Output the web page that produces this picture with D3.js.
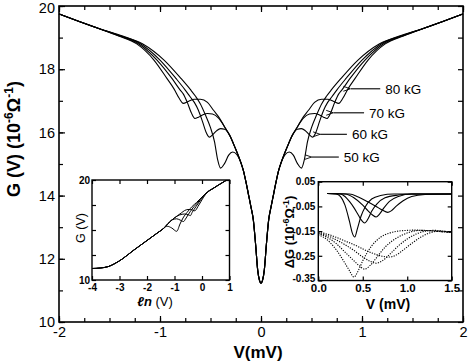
<!DOCTYPE html>
<html><head><meta charset="utf-8">
<script src="https://cdn.jsdelivr.net/npm/d3@7"></script>
<style>body{margin:0;background:#fff}svg text{font-family:"Liberation Sans",Arial,Helvetica,sans-serif;fill:#000}</style>
</head><body><svg id="c" width="474" height="364"></svg>
<script>
// ---------- data: main panel (positive V, mirrored about V=0) ----------
const fields = ["50 kG", "60 kG", "70 kG", "80 kG"];
const coreV = [0, 0.015, 0.033, 0.053, 0.076, 0.1, 0.125, 0.15, 0.175, 0.2];
const coreG = [11.23, 11.32, 11.65, 12.44, 13.23, 13.65, 14.05, 14.45, 14.8, 15.05];
const v50 = [0.24, 0.28, 0.32, 0.36, 0.40, 0.43, 0.46, 0.5, 0.55, 0.6, 0.65, 0.7, 0.79, 0.96, 1.17, 1.37, 1.6, 1.8, 2.0];
const g50 = [15.3, 15.38, 15.28, 15.02, 14.87, 15.15, 15.7, 16.15, 16.55, 16.9, 17.15, 17.36, 17.7, 18.29, 18.8, 19.05, 19.28, 19.51, 19.75];
const v60 = [0.235, 0.27, 0.31, 0.36, 0.40, 0.44, 0.48, 0.51, 0.54, 0.58, 0.62, 0.66, 0.70, 0.75, 0.84, 1.0, 1.19, 1.385, 1.6, 1.8, 2.0];
const g60 = [15.35, 15.62, 15.92, 16.1, 16.12, 16.05, 15.92, 15.85, 15.98, 16.35, 16.7, 16.95, 17.12, 17.34, 17.7, 18.29, 18.8, 19.05, 19.28, 19.51, 19.75];
const v70 = [0.235, 0.27, 0.31, 0.36, 0.42, 0.48, 0.53, 0.58, 0.62, 0.655, 0.69, 0.73, 0.77, 0.80, 0.88, 1.03, 1.21, 1.40, 1.6, 1.8, 2.0];
const g70 = [15.35, 15.62, 15.9, 16.17, 16.45, 16.58, 16.6, 16.55, 16.48, 16.44, 16.62, 16.95, 17.22, 17.34, 17.7, 18.29, 18.8, 19.05, 19.28, 19.51, 19.75];
const v80 = [0.235, 0.27, 0.31, 0.36, 0.41, 0.47, 0.53, 0.6, 0.66, 0.72, 0.77, 0.81, 0.86, 0.93, 1.06, 1.23, 1.41, 1.6, 1.8, 2.0];
const g80 = [15.35, 15.62, 15.9, 16.17, 16.45, 16.7, 16.95, 17.05, 17.05, 16.98, 16.92, 17.08, 17.37, 17.7, 18.29, 18.8, 19.05, 19.28, 19.51, 19.75];
const mainXTicks = [-2, -1, 0, 1, 2];
const mainYTicks = [10, 12, 14, 16, 18, 20];
// annotation arrows (tip in data units, label start in V)
const tipV = [0.5, 0.585, 0.715, 0.885];
const tipG = [15.22, 15.94, 16.62, 17.38];
const labelV = [0.82, 0.9, 1.07, 1.23];

// ---------- data: left inset, G vs ln(V) ----------
const inBaseLn = [-4.0, -3.7, -3.4, -3.2, -2.9, -2.5, -2.0, -1.6, -1.4];
const inBaseG = [11.15, 11.2, 11.35, 11.6, 12.1, 12.95, 13.95, 14.75, 15.15];
const in50Ln = [-1.27, -1.1, -0.92, -0.8, -0.69, -0.5, -0.36, -0.2, 0, 0.2, 0.4, 0.6, 0.87];
const in50G = [15.38, 15.2, 14.87, 15.6, 16.2, 16.9, 17.35, 17.75, 18.3, 18.8, 19.15, 19.5, 19.95];
const in60Ln = [-1.25, -1.1, -0.92, -0.8, -0.67, -0.6, -0.51, -0.36, -0.29, -0.17, 0, 0.2, 0.4, 0.6, 0.87];
const in60G = [15.6, 16.0, 16.12, 16.0, 15.85, 16.1, 16.5, 17.1, 17.34, 17.7, 18.29, 18.8, 19.15, 19.5, 19.95];
const in70Ln = [-1.25, -1.02, -0.82, -0.63, -0.48, -0.42, -0.36, -0.29, -0.22, -0.13, 0.03, 0.2, 0.4, 0.6, 0.87];
const in70G = [15.6, 16.17, 16.5, 16.6, 16.5, 16.44, 16.75, 17.05, 17.34, 17.7, 18.29, 18.8, 19.15, 19.5, 19.95];
const in80Ln = [-1.25, -1.02, -0.755, -0.63, -0.51, -0.41, -0.33, -0.26, -0.21, -0.15, -0.07, 0.06, 0.2, 0.4, 0.6, 0.87];
const in80G = [15.6, 16.17, 16.7, 16.95, 17.05, 17.05, 16.98, 16.92, 17.05, 17.34, 17.7, 18.29, 18.8, 19.15, 19.5, 19.95];
const inXTicks = [-4, -3, -2, -1, 0, 1];
const inYTicks = [10, 12.5, 15, 17.5, 20];

// ---------- data: right inset, dG vs V ----------
const dS50V = [0.1, 0.2, 0.25, 0.3, 0.35, 0.38, 0.41, 0.44, 0.48, 0.53, 0.6, 0.7, 0.85, 1.0, 1.5];
const dS50G = [0.002, 0.0, -0.01, -0.045, -0.11, -0.155, -0.174, -0.14, -0.09, -0.05, -0.02, -0.006, 0, 0, 0];
const dS60V = [0.1, 0.25, 0.3, 0.35, 0.4, 0.45, 0.49, 0.52, 0.56, 0.6, 0.66, 0.75, 0.9, 1.05, 1.5];
const dS60G = [0.002, 0.0, -0.01, -0.03, -0.055, -0.085, -0.108, -0.117, -0.1, -0.07, -0.04, -0.015, -0.004, 0, 0];
const dS70V = [0.1, 0.3, 0.4, 0.5, 0.56, 0.61, 0.65, 0.69, 0.74, 0.8, 0.9, 1.05, 1.5];
const dS70G = [0.002, 0.0, -0.015, -0.045, -0.068, -0.085, -0.093, -0.08, -0.055, -0.03, -0.01, 0, 0];
const dS80V = [0.1, 0.35, 0.45, 0.55, 0.65, 0.72, 0.78, 0.82, 0.88, 0.95, 1.05, 1.2, 1.5];
const dS80G = [0.002, 0.0, -0.012, -0.03, -0.05, -0.065, -0.074, -0.068, -0.048, -0.028, -0.01, -0.002, 0];
const dD50V = [0, 0.1, 0.2, 0.3, 0.35, 0.4, 0.45, 0.5, 0.6, 0.7, 0.8, 0.9, 1.0, 1.1, 1.2, 1.3, 1.4, 1.5];
const dD50G = [-0.165, -0.185, -0.225, -0.28, -0.31, -0.336, -0.31, -0.27, -0.21, -0.175, -0.158, -0.15, -0.147, -0.146, -0.148, -0.15, -0.153, -0.156];
const dD60V = [0, 0.1, 0.2, 0.3, 0.4, 0.46, 0.52, 0.58, 0.65, 0.75, 0.85, 0.95, 1.05, 1.15, 1.25, 1.35, 1.5];
const dD60G = [-0.16, -0.175, -0.2, -0.235, -0.27, -0.29, -0.304, -0.29, -0.26, -0.215, -0.185, -0.165, -0.152, -0.147, -0.148, -0.151, -0.156];
const dD70V = [0, 0.1, 0.2, 0.3, 0.4, 0.5, 0.58, 0.65, 0.72, 0.8, 0.9, 1.0, 1.1, 1.2, 1.3, 1.4, 1.5];
const dD70G = [-0.158, -0.168, -0.185, -0.205, -0.228, -0.255, -0.272, -0.28, -0.27, -0.245, -0.21, -0.182, -0.162, -0.15, -0.147, -0.15, -0.155];
const dD80V = [0, 0.1, 0.2, 0.3, 0.4, 0.5, 0.6, 0.7, 0.8, 0.87, 0.95, 1.05, 1.15, 1.25, 1.35, 1.45, 1.5];
const dD80G = [-0.155, -0.162, -0.175, -0.19, -0.205, -0.222, -0.238, -0.25, -0.255, -0.248, -0.228, -0.2, -0.175, -0.158, -0.15, -0.152, -0.155];
const dXTicks = [0, 0.5, 1.0, 1.5];
const dYTicks = [0.05, -0.05, -0.15, -0.25, -0.35];

// ---------- drawing ----------
const svg = d3.select("#c");
const FONT = '"Liberation Sans",Arial,Helvetica,sans-serif';
const zip = (a, b) => a.map((d, i) => [d, b[i]]);
function mirror(V, G) {
  const pts = [];
  for (let i = V.length - 1; i > 0; i--) pts.push([-V[i], G[i]]);
  for (let i = 0; i < V.length; i++) pts.push([V[i], G[i]]);
  return pts;
}
function styleAxis(sel, size, weight) {
  sel.select(".domain").remove();
  sel.attr("font-family", FONT).attr("font-size", size).attr("font-weight", weight || "normal");
  sel.selectAll(".tick line").attr("stroke", "#000").attr("stroke-width", 1.2);
}

// main scales
const x = d3.scaleLinear().domain([-2, 2]).range([59, 463]);
const y = d3.scaleLinear().domain([10, 20]).range([322, 6]);
const minorX = d3.range(-2, 2.001, 0.25);
const minorY = d3.range(10, 20.001, 1);

// main axes
svg.append("g").attr("transform", "translate(0,322)")
  .call(d3.axisBottom(x).tickValues(minorX).tickSizeInner(-4).tickSizeOuter(0).tickFormat(""))
  .call(s => styleAxis(s, 14.5));
svg.append("g").attr("transform", "translate(0,322)")
  .call(d3.axisBottom(x).tickValues(mainXTicks).tickSizeInner(-6).tickSizeOuter(0).tickPadding(5).tickFormat(d => String(d)))
  .call(s => styleAxis(s, 14.5));
svg.append("g").attr("transform", "translate(0,6)")
  .call(d3.axisTop(x).tickValues(minorX).tickSizeInner(-4).tickSizeOuter(0).tickFormat(""))
  .call(s => styleAxis(s, 14.5));
svg.append("g").attr("transform", "translate(0,6)")
  .call(d3.axisTop(x).tickValues(mainXTicks).tickSizeInner(-6).tickSizeOuter(0).tickFormat(""))
  .call(s => styleAxis(s, 14.5));
svg.append("g").attr("transform", "translate(59,0)")
  .call(d3.axisLeft(y).tickValues(minorY).tickSizeInner(-4).tickSizeOuter(0).tickFormat(""))
  .call(s => styleAxis(s, 14.5));
svg.append("g").attr("transform", "translate(59,0)")
  .call(d3.axisLeft(y).tickValues(mainYTicks).tickSizeInner(-6).tickSizeOuter(0).tickPadding(4).tickFormat(d => String(d)))
  .call(s => styleAxis(s, 14.5))
  .call(s => s.selectAll(".tick text").filter(d => d === 20).attr("dy", "0.45em"));
svg.append("g").attr("transform", "translate(463,0)")
  .call(d3.axisRight(y).tickValues(minorY).tickSizeInner(-5).tickSizeOuter(0).tickFormat(""))
  .call(s => styleAxis(s, 14.5));

svg.append("rect").attr("x", x(-2)).attr("y", y(20)).attr("width", x(2) - x(-2)).attr("height", y(10) - y(20))
  .attr("fill", "none").attr("stroke", "#000").attr("stroke-width", 1.6);

// main curves
const mainLine = d3.line().x(d => x(d[0])).y(d => y(d[1])).curve(d3.curveMonotoneX);
const mainSeries = [[v50, g50], [v60, g60], [v70, g70], [v80, g80]];
mainSeries.forEach(([V, G]) => {
  svg.append("path").attr("d", mainLine(mirror(coreV.concat(V), coreG.concat(G))))
    .attr("fill", "none").attr("stroke", "#000").attr("stroke-width", 1.1);
});

// arrows + labels
const defs = svg.append("defs");
defs.append("marker").attr("id", "ah").attr("viewBox", "0 0 10 10").attr("refX", 0).attr("refY", 5)
  .attr("markerWidth", 7).attr("markerHeight", 7).attr("orient", "auto-start-reverse").attr("markerUnits", "userSpaceOnUse")
  .append("path").attr("d", "M10,1.5 L0,5 L10,8.5").attr("fill", "none").attr("stroke", "#000").attr("stroke-width", 1.3);
fields.forEach((f, i) => {
  const ty = y(tipG[i]);
  svg.append("line").attr("x1", x(labelV[i]) - 5).attr("y1", ty).attr("x2", x(tipV[i])).attr("y2", ty)
    .attr("stroke", "#000").attr("stroke-width", 1.1).attr("marker-end", "url(#ah)");
  svg.append("text").attr("x", x(labelV[i])).attr("y", ty).attr("dy", "0.36em")
    .attr("font-size", 13.5).text(f);
});

// axis titles
svg.append("text").attr("x", 258).attr("y", 358).attr("text-anchor", "middle")
  .attr("font-size", 17).attr("font-weight", "bold").text("V(mV)");
const yt = svg.append("text").attr("transform", "translate(20,139) rotate(-90)").attr("text-anchor", "middle")
  .attr("font-size", 18).attr("font-weight", "bold");
yt.append("tspan").text("G (V) (10");
yt.append("tspan").attr("font-size", 12).attr("dy", -7).text("-6");
yt.append("tspan").attr("dy", 7).text("Ω");
yt.append("tspan").attr("font-size", 12).attr("dy", -7).text("-1");
yt.append("tspan").attr("dy", 7).text(")");

// ---------- left inset ----------
const ix = d3.scaleLinear().domain([-4, 1]).range([92, 229.5]);
const iy = d3.scaleLinear().domain([10, 20]).range([280, 180]);
svg.append("rect").attr("x", ix(-4)).attr("y", iy(20)).attr("width", ix(1) - ix(-4)).attr("height", iy(10) - iy(20)).attr("fill", "#fff");
const inLine = d3.line().x(d => ix(d[0])).y(d => iy(d[1])).curve(d3.curveMonotoneX);
[[in50Ln, in50G], [in60Ln, in60G], [in70Ln, in70G], [in80Ln, in80G]].forEach(([L, G]) => {
  svg.append("path").attr("d", inLine(zip(inBaseLn.concat(L), inBaseG.concat(G))))
    .attr("fill", "none").attr("stroke", "#000").attr("stroke-width", 1);
});
svg.append("g").attr("transform", `translate(0,${iy(10)})`)
  .call(d3.axisBottom(ix).tickValues(inXTicks).tickSizeInner(-4).tickSizeOuter(0).tickPadding(4).tickFormat(d => String(d)))
  .call(s => styleAxis(s, 10, "bold"));
svg.append("g").attr("transform", `translate(0,${iy(20)})`)
  .call(d3.axisTop(ix).tickValues(inXTicks).tickSizeInner(-4).tickSizeOuter(0).tickFormat(""))
  .call(s => styleAxis(s, 10));
svg.append("g").attr("transform", `translate(${ix(-4)},0)`)
  .call(d3.axisLeft(iy).tickValues(inYTicks).tickSizeInner(-4).tickSizeOuter(0).tickPadding(2).tickFormat(d => (d === 10 || d === 20) ? String(d) : ""))
  .call(s => styleAxis(s, 10, "bold"));
svg.append("g").attr("transform", `translate(${ix(1)},0)`)
  .call(d3.axisRight(iy).tickValues(inYTicks).tickSizeInner(-4).tickSizeOuter(0).tickFormat(""))
  .call(s => styleAxis(s, 10));
svg.append("rect").attr("x", ix(-4)).attr("y", iy(20)).attr("width", ix(1) - ix(-4)).attr("height", iy(10) - iy(20))
  .attr("fill", "none").attr("stroke", "#000").attr("stroke-width", 1.4);
svg.append("text").attr("transform", "translate(85,228) rotate(-90)").attr("text-anchor", "middle")
  .attr("font-size", 12.5).text("G (V)");
const lnT = svg.append("text").attr("x", 155).attr("y", 306).attr("text-anchor", "middle").attr("font-size", 13);
lnT.append("tspan").attr("font-style", "italic").attr("font-weight", "bold").text("ℓn");
lnT.append("tspan").text(" (V)");

// ---------- right inset ----------
const dx = d3.scaleLinear().domain([0, 1.5]).range([318.3, 451.7]);
const dy = d3.scaleLinear().domain([-0.35, 0.05]).range([280.5, 181.7]);
svg.append("rect").attr("x", dx(0)).attr("y", dy(0.05)).attr("width", dx(1.5) - dx(0)).attr("height", dy(-0.35) - dy(0.05)).attr("fill", "#fff");
const dLine = d3.line().x(d => dx(d[0])).y(d => dy(d[1])).curve(d3.curveMonotoneX);
[[dS50V, dS50G], [dS60V, dS60G], [dS70V, dS70G], [dS80V, dS80G]].forEach(([V, G]) => {
  svg.append("path").attr("d", dLine(zip(V, G))).attr("fill", "none").attr("stroke", "#000").attr("stroke-width", 1.1);
});
[[dD50V, dD50G], [dD60V, dD60G], [dD70V, dD70G], [dD80V, dD80G]].forEach(([V, G]) => {
  svg.append("path").attr("d", dLine(zip(V, G))).attr("fill", "none").attr("stroke", "#000")
    .attr("stroke-width", 1.1).attr("stroke-dasharray", "1.2,1.3");
});
svg.append("g").attr("transform", `translate(0,${dy(-0.35)})`)
  .call(d3.axisBottom(dx).tickValues(dXTicks).tickSizeInner(-4).tickSizeOuter(0).tickPadding(3).tickFormat(d3.format(".1f")))
  .call(s => styleAxis(s, 11.5, "bold"));
svg.append("g").attr("transform", `translate(0,${dy(0.05)})`)
  .call(d3.axisTop(dx).tickValues(dXTicks).tickSizeInner(-4).tickSizeOuter(0).tickFormat(""))
  .call(s => styleAxis(s, 12));
svg.append("g").attr("transform", `translate(${dx(0)},0)`)
  .call(d3.axisLeft(dy).tickValues(dYTicks).tickSizeInner(-4).tickSizeOuter(0).tickPadding(3).tickFormat(d => d3.format(".2f")(d).replace("−", "-")))
  .call(s => styleAxis(s, 10, "bold"))
  .call(s => s.selectAll(".tick text").filter(d => d === -0.35).attr("dy", "0.1em"));
svg.append("g").attr("transform", `translate(${dx(1.5)},0)`)
  .call(d3.axisRight(dy).tickValues(dYTicks).tickSizeInner(-4).tickSizeOuter(0).tickFormat(""))
  .call(s => styleAxis(s, 10));
svg.append("rect").attr("x", dx(0)).attr("y", dy(0.05)).attr("width", dx(1.5) - dx(0)).attr("height", dy(-0.35) - dy(0.05))
  .attr("fill", "none").attr("stroke", "#000").attr("stroke-width", 1.4);
svg.append("text").attr("x", 388).attr("y", 309).attr("text-anchor", "middle")
  .attr("font-size", 14).attr("font-weight", "bold").text("V (mV)");
const dt = svg.append("text").attr("transform", "translate(294,232) rotate(-90)").attr("text-anchor", "middle")
  .attr("font-size", 13).attr("font-weight", "bold");
dt.append("tspan").text("ΔG (10");
dt.append("tspan").attr("font-size", 9).attr("dy", -5).text("-6");
dt.append("tspan").attr("dy", 5).text("Ω");
dt.append("tspan").attr("font-size", 9).attr("dy", -5).text("-1");
dt.append("tspan").attr("dy", 5).text(")");
</script></body></html>
